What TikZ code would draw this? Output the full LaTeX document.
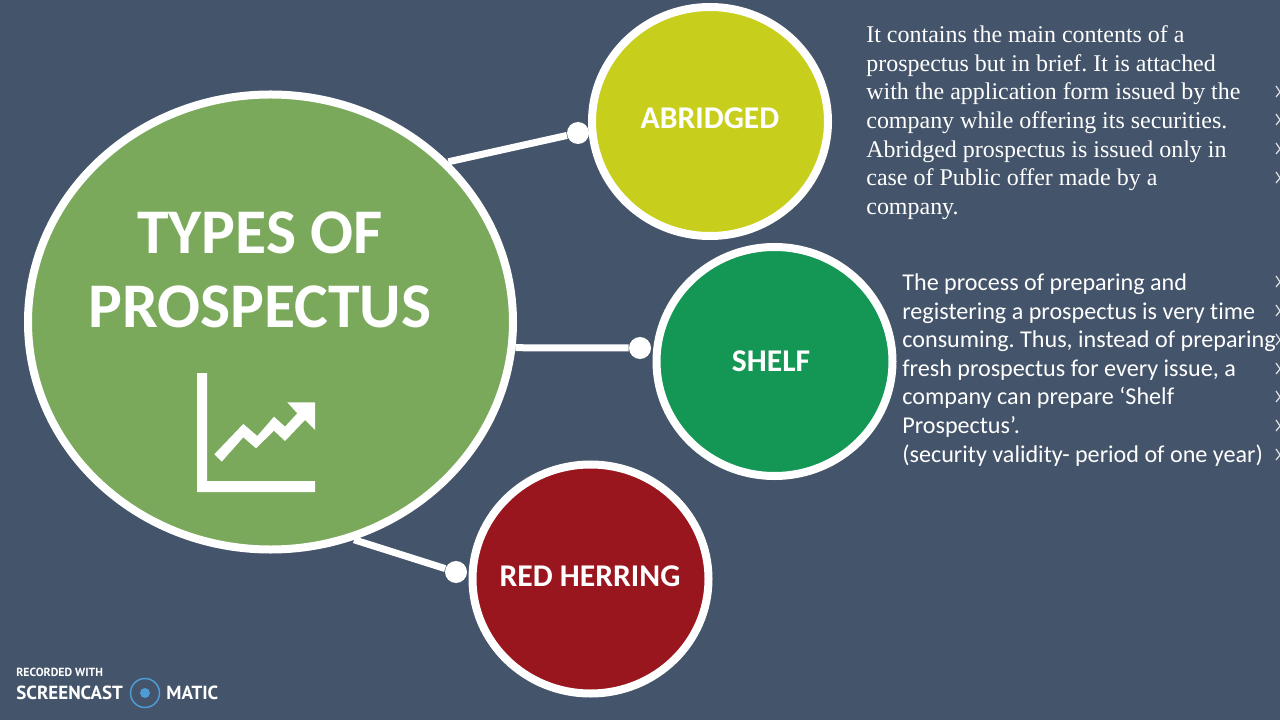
\documentclass[tikz,border=0pt]{standalone}
\usepackage{fontspec}
\setmainfont[Ligatures = NoCommon]{Carlito}
\newfontfamily\serifbody{Liberation Serif}
\newfontfamily\logofont{PT Sans}
\usepackage{tikz}
\usetikzlibrary{positioning}
\usetikzlibrary{shapes.geometric}
\frenchspacing
\definecolor{mback}{HTML}{44546A}
\definecolor{mgreen}{HTML}{7AA95C}
\definecolor{myellow}{HTML}{C8CE1C}
\definecolor{mshelf}{HTML}{149655}
\definecolor{mred}{HTML}{9A161E}
\definecolor{mlogo}{HTML}{4F9BD5}
\tikzset{circ/.style = {fill, white, circle, inner sep = 0, minimum size = 4.4mm}}
\tikzset{kind/.style = {ellipse, draw = white, line width = 1.6mm, inner sep = 0, minimum width = 47.2mm, minimum height = 45.8mm}}
\tikzset{kindname/.style = {text = white, inner sep = 0, font = \fontsize{18}{21}\selectfont\bfseries}}
\tikzset{link/.style = {white, line width = 1.4mm}}
\tikzset{body/.style = {anchor = north west, inner sep = 0, text = white, align = left}}
\tikzset{logo/.style = {anchor = west, inner sep = 0, text = white}}
\begin{document}
\begin{tikzpicture}[x = 0.2mm, y = -0.2mm]
      \fill [mback] (0, 0) rectangle (1280, 720);
      \useasboundingbox (0, 0) rectangle (1280, 720);

      \node (types) at (270.5, 322) [kind, fill = mgreen, minimum width = 97mm, minimum height = 91mm] {};
      \node (abridged) at (710, 121.5) [kind, fill = myellow] {};
      \node (shelf) at (774.5, 361.5) [kind, fill = mshelf] {};
      \node (herring) at (590.5, 579) [kind, fill = mred] {};

      \node (abridgedname) at (710, 118) [kindname] {ABRIDGED};
      \node (shelfname) at (771, 361) [kindname] {SHELF};
      \node (herringname) at (590, 576) [kindname] {RED HERRING};

      \node (title) at (260, 270) [text = white, align = center, font = \fontsize{36.2}{42.5}\selectfont\bfseries] {TYPES OF\\PROSPECTUS};

      \node (dota) at (578, 133) [circ] {};
      \node (dotb) at (640, 348) [circ] {};
      \node (dotc) at (456, 572) [circ] {};

      \draw [link] (types.42) -- (dota);
      \draw [link] (types.-6) -- (dotb);
      \draw [link] (types.-69) -- (dotc);

      % chart icon
      \fill [white] (197, 373) -- (207, 373) -- (207, 481) -- (315, 481) -- (315, 492) -- (197, 492) -- cycle;
      \fill [white] (214.3, 454.3) -- (243.3, 424) -- (257.3, 436) -- (274, 416.7) -- (285, 426.7) -- (297.3, 413.3) -- (287.3, 402.3) -- (315, 402.3) -- (315, 430) -- (305, 420) -- (285, 441) -- (274, 430.7) -- (256, 448.3) -- (243.3, 437.3) -- (221.7, 461.7) -- cycle;

      \node (abridgedtext) at (866, 25.5) [body, font = \serifbody\fontsize{13.64}{16.27}\selectfont] {It contains the main contents of a\\prospectus but in brief. It is attached\\with the application form issued by the\\company while offering its securities.\\Abridged prospectus is issued only in\\case of Public offer made by a\\company.};
      \node (shelftext) at (902, 273.5) [body, font = \fontsize{13.73}{16.27}\selectfont] {The process of preparing and\\registering a prospectus is very time\\consuming. Thus, instead of preparing\\fresh prospectus for every issue, a\\company can prepare `Shelf\\Prospectus'.\\(security validity- period of one year)};

      % recorder mark
      \node (recorded) at (16, 672) [logo, font = \logofont\bfseries\fontsize{6.7}{8}\selectfont] {RECORDED WITH};
      \node (screencast) at (16, 693) [logo, font = \logofont\bfseries\fontsize{10.8}{12}\selectfont] {SCREENCAST};
      \node (ring) at (145, 693) [circle, draw = mlogo, line width = 0.3mm, inner sep = 0, minimum size = 5.8mm] {};
      \node (ringdot) at (145, 693) [circle, fill = mlogo, inner sep = 0, minimum size = 2mm] {};
      \node (matic) at (166, 693) [logo, font = \logofont\bfseries\fontsize{10.8}{12}\selectfont] {MATIC};

      % scraps on the right edge
      \foreach \ypos in {92, 120, 149, 178, 282, 311, 340, 369, 397, 426, 455} {
        \draw [white!80!mback, line width = 0.25mm] (1276, \ypos - 6) -- (1280, \ypos) -- (1276, \ypos + 5);
      }
    \end{tikzpicture}
\end{document}
